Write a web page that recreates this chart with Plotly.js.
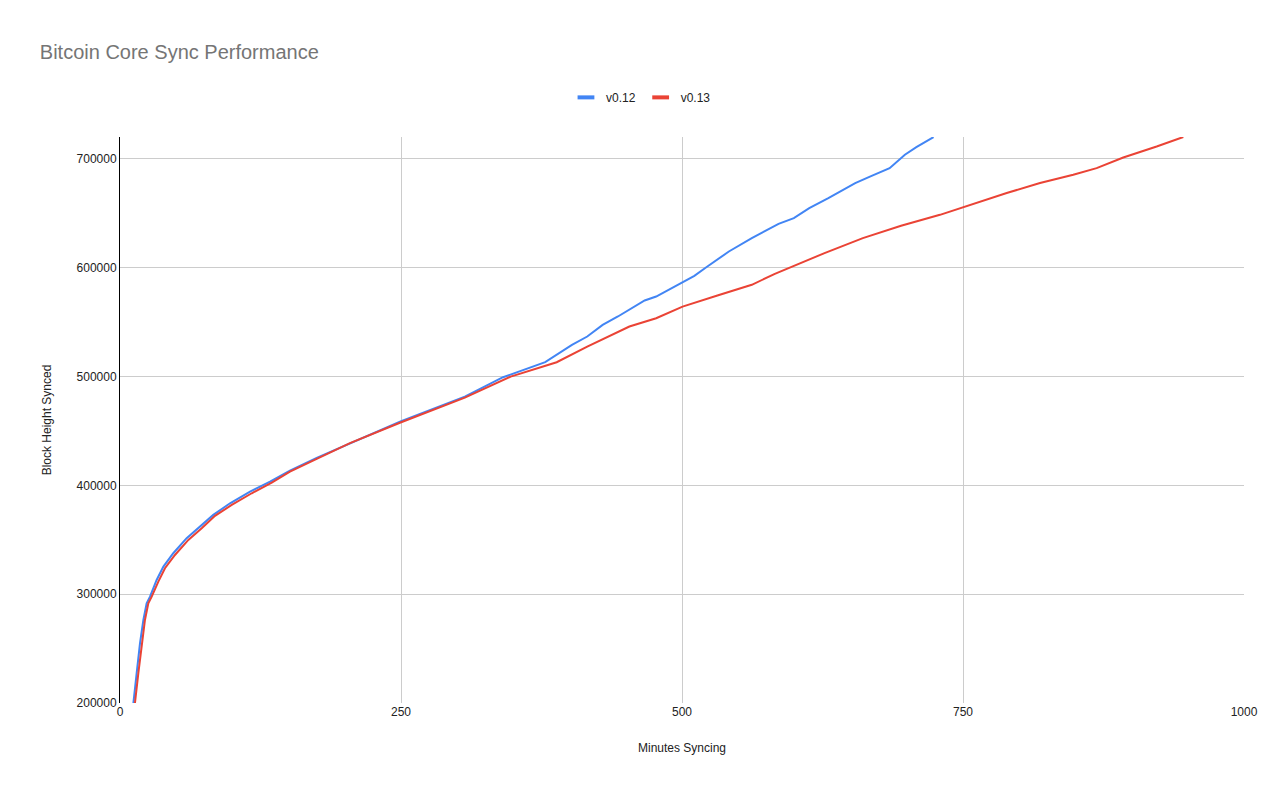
<!DOCTYPE html>
<html>
<head>
<meta charset="utf-8">
<script src="https://cdn.plot.ly/plotly-3.0.1.min.js"></script>
<style>
  html, body { margin: 0; padding: 0; background: #fff; }
  #chart { width: 1284px; height: 795px; }
</style>
</head>
<body>
<div id="chart"></div>
<script>
// v0.12 sync progress (minutes, block height)
const minutesV012 = [11.5, 11.9, 14.8, 17.8, 20.8, 23.7, 26.7, 32.6, 38.6, 47.4, 59.3, 71.2, 83.0, 97.9, 115.7, 133.5, 151.2, 175, 204.6, 249.6, 306.8, 340.8, 378.3, 402.1, 415.7, 429.4, 443.0, 466.8, 477.0, 500.5, 511.0, 521.3, 541.7, 562.1, 585.9, 599.5, 613.2, 630.2, 654.1, 667.7, 684.7, 698.3, 708.5, 723.8];
const heightV012 = [195000, 200000, 227300, 254900, 276300, 291600, 297700, 313000, 325300, 337600, 351400, 362000, 372800, 383500, 394200, 403400, 413500, 425200, 438700, 458600, 481500, 499300, 513100, 529000, 536700, 547400, 555100, 569800, 573400, 586300, 592400, 600100, 614800, 627100, 640200, 645500, 654700, 663900, 677700, 683800, 691400, 703700, 710700, 719900];

// v0.13 sync progress
const minutesV013 = [12.9, 13.3, 16.3, 19.3, 22.2, 25.2, 28.2, 34.1, 40.0, 48.9, 60.8, 72.7, 84.5, 99.4, 117.2, 135.0, 151.2, 175, 204.6, 249.6, 306.8, 347.6, 388.5, 415.7, 453.2, 477.0, 500.5, 531.5, 562.1, 582.6, 599.5, 626.8, 660.9, 694.9, 729.5, 750.3, 788.9, 818.5, 848.1, 868.9, 892.6, 922.3, 946.0];
const heightV013 = [195000, 200000, 227300, 254900, 276300, 291600, 297700, 311500, 323800, 336000, 349800, 360600, 371900, 382000, 392700, 402500, 412600, 424300, 438700, 457700, 480600, 499900, 513100, 527500, 545900, 553500, 564200, 574400, 584200, 594300, 601700, 613300, 627100, 638400, 648500, 655600, 668500, 677700, 685300, 691400, 701200, 711300, 720000];

const seriesNames = ["v0.12", "v0.13"];
const seriesColors = ["#4285f4", "#ea4335"];
const xTicks = [0, 250, 500, 750, 1000];
const yTicks = [200000, 300000, 400000, 500000, 600000, 700000];

const lineTrace = (x, y, i) => ({
  x: x,
  y: y,
  type: "scatter",
  mode: "lines",
  name: seriesNames[i],
  legendgroup: seriesNames[i],
  showlegend: false,
  hovertemplate: "%{x}, %{y}<extra>" + seriesNames[i] + "</extra>",
  line: { color: seriesColors[i], width: 2 },
});

// short thick legend keys, like the sheets legend
const legendKey = (i) => ({
  x: [null],
  y: [null],
  type: "scatter",
  mode: "markers",
  name: seriesNames[i],
  legendgroup: seriesNames[i],
  marker: {
    symbol: "line-ew",
    size: 12,
    line: { color: seriesColors[i], width: 4 },
  },
});

const traces = [
  lineTrace(minutesV012, heightV012, 0),
  lineTrace(minutesV013, heightV013, 1),
  legendKey(0),
  legendKey(1),
];

const layout = {
  width: 1284,
  height: 795,
  autosize: false,
  margin: { t: 137, l: 120, r: 40, b: 92, autoexpand: false },
  paper_bgcolor: "#ffffff",
  plot_bgcolor: "#ffffff",
  font: { family: "Arial, 'Liberation Sans', sans-serif", size: 12, color: "#222222" },
  title: {
    text: "Bitcoin Core Sync Performance",
    font: { family: "Arial, 'Liberation Sans', sans-serif", size: 20, color: "#757575" },
    xref: "container",
    x: 0.031,
    xanchor: "left",
    yref: "container",
    y: 0.934,
    yanchor: "middle",
  },
  showlegend: true,
  legend: {
    orientation: "h",
    x: 0.4635,
    xanchor: "center",
    y: 1.07,
    yanchor: "middle",
    font: { size: 12, color: "#222222" },
    itemwidth: 30,
    itemclick: false,
    itemdoubleclick: false,
  },
  xaxis: {
    range: [0, 1000],
    tickvals: xTicks,
    showgrid: true,
    gridcolor: "#cccccc",
    zeroline: false,
    showline: false,
    ticks: "",
    automargin: false,
    tickfont: { size: 12, color: "#222222" },
    title: { text: "Minutes Syncing", font: { size: 12, color: "#222222" }, standoff: 25 },
  },
  yaxis: {
    range: [200000, 720000],
    tickvals: yTicks,
    tickformat: "d",
    showgrid: true,
    gridcolor: "#cccccc",
    zeroline: false,
    showline: true,
    linecolor: "#000000",
    linewidth: 1,
    ticks: "",
    automargin: false,
    tickfont: { size: 12, color: "#222222" },
    title: { text: "Block Height Synced", font: { size: 12, color: "#222222" }, standoff: 22 },
  },
};

Plotly.newPlot("chart", traces, layout, { displayModeBar: false, responsive: false });
</script>
</body>
</html>
